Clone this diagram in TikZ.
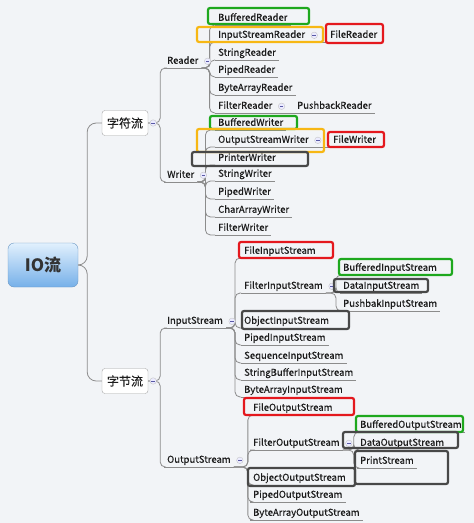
\documentclass[tikz,border=0pt]{standalone}
\usepackage{fontspec}
\setmainfont{Noto Sans CJK SC}
\newfontfamily\mapfont{Noto Sans CJK SC}[FakeBold=0.4]
\usepackage{xcolor}

\definecolor{bgcol}{RGB}{242,244,247}
\definecolor{linecol}{RGB}{140,140,140}
\definecolor{txtcol}{RGB}{28,28,28}
\definecolor{rootdraw}{RGB}{105,150,195}
\definecolor{roottop}{RGB}{225,240,253}
\definecolor{rootbot}{RGB}{118,176,233}
\definecolor{hlgreen}{RGB}{30,168,30}
\definecolor{hlorange}{RGB}{247,183,20}
\definecolor{hlred}{RGB}{228,24,30}
\definecolor{hldark}{RGB}{72,72,72}

\begin{document}
\begin{tikzpicture}[x=1pt, y=-1pt,
  root/.style={rectangle, draw=rootdraw, top color=roottop, bottom color=rootbot,
    rounded corners=6pt, minimum width=70pt, minimum height=44pt, text=txtcol!90!white,
    font=\fontsize{17}{20}\selectfont\bfseries},
  topic/.style={rectangle, draw=gray!70, fill=white, rounded corners=3pt,
    minimum width=46pt, minimum height=25pt, text=txtcol, font=\mapfont\fontsize{12}{14}\selectfont},
  leaf/.style={anchor=south west, inner xsep=3pt, inner ysep=2pt, text height=7pt,
    text depth=2pt, text=txtcol, font=\mapfont\fontsize{9.5}{11}\selectfont},
  fold/.style={circle, draw=gray!45, fill=blue!8, minimum size=6.5pt, inner sep=0pt,
    path picture={\draw[blue!30!gray, line width=0.5pt]
      ([xshift=-1.8pt]path picture bounding box.center) -- ([xshift=1.8pt]path picture bounding box.center);}},
  under/.style={draw=linecol, line width=0.8pt},
  branch/.style={draw=linecol, line width=0.8pt, rounded corners=5pt},
  hlbox/.style={rounded corners=2pt, line width=2.2pt}
]

\useasboundingbox[fill=bgcol] (0,0) rectangle (474,523);

% 根与一级主题
\node (root) [root] at (43,265) {IO流};
\node (zfl) [topic] at (125,123) {字符流};
\node (zjl) [topic] at (125,381) {字节流};

\draw [branch, rounded corners=9pt] (root.east) -- ++(9,0) |- (zfl.west);
\draw [branch, rounded corners=9pt] (root.east) -- ++(9,0) |- (zjl.west);

% 二级主题
\node (reader) [leaf] at (164,68) {Reader};
\node (writer) [leaf] at (164,182) {Writer};
\node (is) [leaf] at (164,328) {InputStream};
\node (os) [leaf] at (164,467) {OutputStream};

\foreach \n in {reader, writer} {
  \draw [under] (\n.south west) -- (\n.south east);
  \draw [branch] (zfl.east) -- ++(12,0) |- (\n.south west);
}
\foreach \n in {is, os} {
  \draw [under] (\n.south west) -- (\n.south east);
  \draw [branch] (zjl.east) -- ++(12,0) |- (\n.south west);
}

% Reader
\foreach \n/\t/\y in {br/BufferedReader/25, isr/InputStreamReader/42, sr/StringReader/60,
    pr/PipedReader/77, bar/ByteArrayReader/95, fr/FilterReader/113} {
  \node (\n) [leaf] at (215,\y) {\t};
  \draw [under] (\n.south west) -- (\n.south east);
  \draw [branch] (reader.south east) -- ++(8,0) |- (\n.south west);
}
\node (frd) [leaf] at (327,42) {FileReader};
\node (pbr) [leaf] at (294,113) {PushbackReader};
\draw [under] (isr.south east) -- (frd.south east);
\draw [under] (fr.south east) -- (pbr.south east);

% Writer
\foreach \n/\t/\y in {bw/BufferedWriter/130, osw/OutputStreamWriter/147, pw/PrinterWriter/165,
    sw/StringWriter/181, pdw/PipedWriter/199, caw/CharArrayWriter/217, fw/FilterWriter/235} {
  \node (\n) [leaf] at (215,\y) {\t};
  \draw [under] (\n.south west) -- (\n.south east);
  \draw [branch] (writer.south east) -- ++(8,0) |- (\n.south west);
}
\node (fwr) [leaf] at (330,147) {FileWriter};
\draw [under] (osw.south east) -- (fwr.south east);

% InputStream
\foreach \n/\t/\y in {fis/FileInputStream/258, flis/FilterInputStream/293,
    ois/ObjectInputStream/328, pis/PipedInputStream/345, sis/SequenceInputStream/363,
    sbis/StringBufferInputStream/380, bais/ByteArrayInputStream/397} {
  \node (\n) [leaf] at (241,\y) {\t};
  \draw [under] (\n.south west) -- (\n.south east);
  \draw [branch] (is.south east) -- ++(9,0) |- (\n.south west);
}
\foreach \n/\t/\y in {bis/BufferedInputStream/275, dis/DataInputStream/293,
    pbis/PushbakInputStream/311} {
  \node (\n) [leaf] at (340,\y) {\t};
  \draw [under] (\n.south west) -- (\n.south east);
  \draw [branch] (flis.south east) -- ++(10,0) |- (\n.south west);
}

% OutputStream
\foreach \n/\t/\y in {fos/FileOutputStream/415, flos/FilterOutputStream/450,
    oos/ObjectOutputStream/485, pos/PipedOutputStream/502, baos/ByteArrayOutputStream/520} {
  \node (\n) [leaf] at (250,\y) {\t};
  \draw [under] (\n.south west) -- (\n.south east);
  \draw [branch] (os.south east) -- ++(14,0) |- (\n.south west);
}
\foreach \n/\t/\y in {bos/BufferedOutputStream/432, dos/DataOutputStream/450,
    ps/PrintStream/468} {
  \node (\n) [leaf] at (357,\y) {\t};
  \draw [under] (\n.south west) -- (\n.south east);
  \draw [branch] (flos.south east) -- ++(11,0) |- (\n.south west);
}

% 折叠标记
\foreach \n in {zfl, zjl} \node (f\n) [fold] at ([xshift=5pt]\n.east) {};
\foreach \n in {reader, writer, isr, fr, osw, is, flis, os, flos}
  \node (f\n) [fold] at ([xshift=6pt]\n.east) {};

% 标注框
\draw [hlbox, hlgreen] (208,8) rectangle (309,24);
\draw [hlbox, hlgreen] (210,116) rectangle (297,129);
\draw [hlbox, hlgreen] (339,259) rectangle (452,275);
\draw [hlbox, hlgreen] (356,416) rectangle (463,432);
\draw [hlbox, hlorange] (197,27) rectangle (323,42);
\draw [hlbox, hlorange] (197,129) rectangle (324,152);
\draw [hlbox, hlred] (326,24) rectangle (383,43);
\draw [hlbox, hlred] (328,132) rectangle (384,147);
\draw [hlbox, hlred] (239,242) rectangle (333,258);
\draw [hlbox, hlred] (244,398) rectangle (354,415);
\draw [hlbox, hldark] (192,152) rectangle (308,166);
\draw [hlbox, hldark] (334,279) rectangle (428,292);
\draw [hlbox, hldark] (242,311) rectangle (349,329);
\draw [hlbox, hldark] (343,432) rectangle (458,448);
\draw [hlbox, hldark] (355,451) rectangle (448,484);
\draw [hlbox, hldark] (248,468) rectangle (355,486);

\end{tikzpicture}
\end{document}
